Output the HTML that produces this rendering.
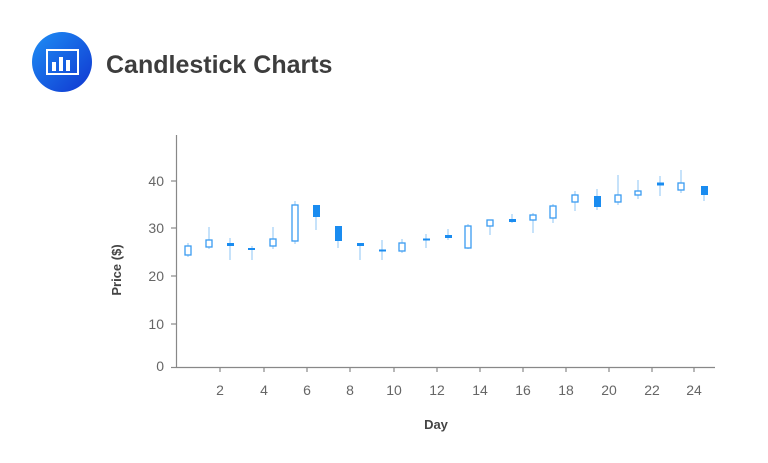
<!DOCTYPE html>
<html><head><meta charset="utf-8"><style>
html,body{margin:0;padding:0;background:#fff;width:768px;height:463px;overflow:hidden}
</style></head><body>
<svg width="768" height="463" viewBox="0 0 768 463" xmlns="http://www.w3.org/2000/svg" font-family="Liberation Sans, sans-serif">
<defs><linearGradient id="g" x1="0" y1="0" x2="1" y2="1"><stop offset="0" stop-color="#1e8ff5"/><stop offset="1" stop-color="#1035d0"/></linearGradient></defs>
<circle cx="62" cy="62" r="30" fill="url(#g)"/>
<rect x="47" y="50" width="31" height="24" fill="none" stroke="#fff" stroke-width="2"/>
<rect x="52" y="62" width="4" height="9" fill="#fff"/><rect x="59" y="57" width="4" height="14" fill="#fff"/><rect x="66" y="60" width="4" height="11" fill="#fff"/>
<text x="106" y="73" font-size="25" font-weight="bold" fill="#3d3d3d">Candlestick Charts</text>
<g stroke="#888" stroke-width="1.2">
<line x1="176.5" y1="135" x2="176.5" y2="367"/>
<line x1="176" y1="367.5" x2="715" y2="367.5"/>
<line x1="171" y1="367.5" x2="176" y2="367.5"/><line x1="171" y1="324" x2="176" y2="324"/><line x1="171" y1="276" x2="176" y2="276"/><line x1="171" y1="228" x2="176" y2="228"/><line x1="171" y1="181" x2="176" y2="181"/>
<line x1="220" y1="367" x2="220" y2="372"/><line x1="264" y1="367" x2="264" y2="372"/><line x1="307" y1="367" x2="307" y2="372"/><line x1="350" y1="367" x2="350" y2="372"/><line x1="394" y1="367" x2="394" y2="372"/><line x1="437" y1="367" x2="437" y2="372"/><line x1="480" y1="367" x2="480" y2="372"/><line x1="523" y1="367" x2="523" y2="372"/><line x1="566" y1="367" x2="566" y2="372"/><line x1="609" y1="367" x2="609" y2="372"/><line x1="652" y1="367" x2="652" y2="372"/><line x1="694" y1="367" x2="694" y2="372"/>
</g>
<g font-size="14" fill="#666" text-anchor="end">
<text x="164" y="371">0</text><text x="164" y="329">10</text><text x="164" y="281">20</text><text x="164" y="233">30</text><text x="164" y="186">40</text>
</g>
<g font-size="14" fill="#666" text-anchor="middle">
<text x="220" y="395">2</text><text x="264" y="395">4</text><text x="307" y="395">6</text><text x="350" y="395">8</text><text x="394" y="395">10</text><text x="437" y="395">12</text><text x="480" y="395">14</text><text x="523" y="395">16</text><text x="566" y="395">18</text><text x="609" y="395">20</text><text x="652" y="395">22</text><text x="694" y="395">24</text>
</g>
<text x="436" y="429" font-size="13" font-weight="bold" fill="#444" text-anchor="middle">Day</text>
<text transform="translate(121,270) rotate(-90)" font-size="13" font-weight="bold" fill="#444" text-anchor="middle">Price ($)</text>
<g stroke="#8ec6f5" stroke-width="1">
<line x1="188" y1="243" x2="188" y2="257"/><line x1="209" y1="227" x2="209" y2="249"/><line x1="230" y1="238" x2="230" y2="260"/><line x1="252" y1="246" x2="252" y2="260"/><line x1="273" y1="227" x2="273" y2="249"/><line x1="295" y1="201" x2="295" y2="244"/><line x1="316" y1="205" x2="316" y2="230"/><line x1="338" y1="226" x2="338" y2="248"/><line x1="360" y1="243" x2="360" y2="260"/><line x1="382" y1="240" x2="382" y2="260"/><line x1="402" y1="239" x2="402" y2="253"/><line x1="426" y1="234" x2="426" y2="248"/><line x1="448" y1="229" x2="448" y2="240"/><line x1="468" y1="224" x2="468" y2="249"/><line x1="490" y1="220" x2="490" y2="235"/><line x1="512" y1="214" x2="512" y2="223"/><line x1="533" y1="213" x2="533" y2="233"/><line x1="553" y1="204" x2="553" y2="223"/><line x1="575" y1="191" x2="575" y2="211"/><line x1="597" y1="189" x2="597" y2="210"/><line x1="618" y1="175" x2="618" y2="205"/><line x1="638" y1="180" x2="638" y2="199"/><line x1="660" y1="176" x2="660" y2="196"/><line x1="681" y1="170" x2="681" y2="193"/><line x1="704" y1="186" x2="704" y2="201"/>
</g>
<g fill="#fff" stroke="#3a9cf0" stroke-width="1.3">
<rect x="185" y="246" width="6" height="9"/><rect x="206" y="240" width="6" height="7"/><rect x="270" y="239" width="6" height="7"/><rect x="292" y="205" width="6" height="36"/><rect x="399" y="243" width="6" height="8"/><rect x="465" y="226" width="6" height="22"/><rect x="487" y="220" width="6" height="6"/><rect x="530" y="215" width="6" height="5"/><rect x="550" y="206" width="6" height="12"/><rect x="572" y="195" width="6" height="7"/><rect x="615" y="195" width="6" height="7"/><rect x="635" y="191" width="6" height="4"/><rect x="678" y="183" width="6" height="7"/>
</g>
<g fill="#1a8cf0">
<rect x="227" y="243" width="7" height="3"/><rect x="248" y="248" width="7" height="2"/><rect x="313" y="205" width="7" height="12"/><rect x="335" y="226" width="7" height="15"/><rect x="357" y="243" width="7" height="3"/><rect x="379" y="249.5" width="7" height="2"/><rect x="423" y="238.5" width="7" height="2"/><rect x="445" y="235" width="7" height="3"/><rect x="509" y="219" width="7" height="3"/><rect x="594" y="196" width="7" height="11"/><rect x="657" y="182.5" width="7" height="3"/><rect x="701" y="186" width="7" height="9"/>
</g>
</svg>
</body></html>
